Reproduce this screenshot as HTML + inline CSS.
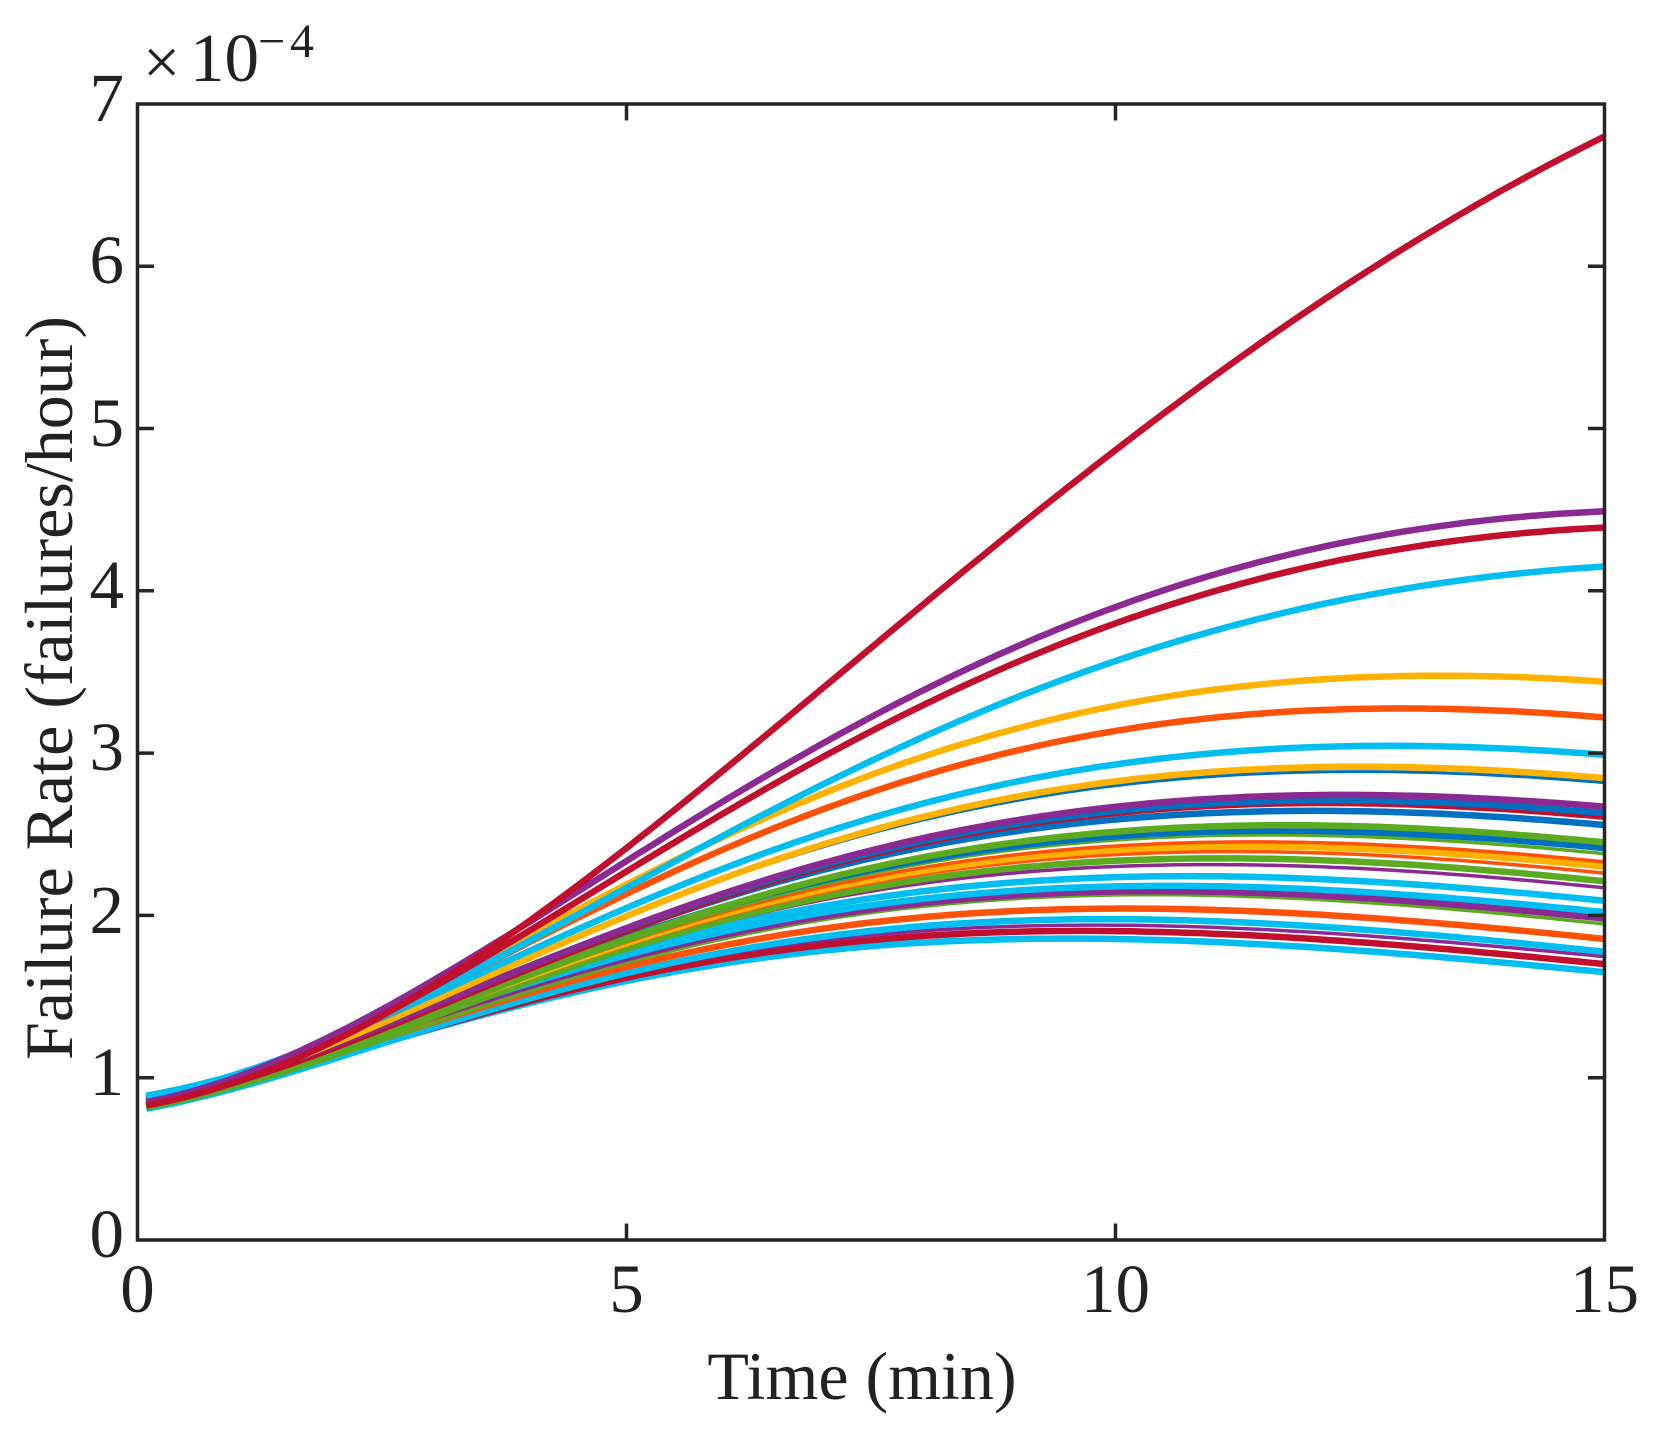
<!DOCTYPE html>
<html>
<head>
<meta charset="utf-8">
<style>
  html,body{margin:0;padding:0;background:#fff;}
  svg{display:block;}
  text{font-family:"Liberation Serif","DejaVu Serif",serif;fill:#222;}
</style>
</head>
<body>
<svg id="s" width="1667" height="1440" viewBox="0 0 1667 1440" xmlns="http://www.w3.org/2000/svg">
  <rect x="0" y="0" width="1667" height="1440" fill="#fff"/>
  <defs>
    <clipPath id="c"><rect x="137.5" y="104" width="1467" height="1136"/></clipPath>
  </defs>
  <g id="curves" clip-path="url(#c)" fill="none" stroke-linejoin="round"></g>

  <!-- axes box -->
  <rect x="137.5" y="104" width="1467" height="1136" fill="none" stroke="#262626" stroke-width="3.5"/>
  <!-- ticks -->
  <g stroke="#262626" stroke-width="3.5">
    <line x1="137.5" y1="1077.7" x2="154" y2="1077.7"/>
    <line x1="137.5" y1="915.4" x2="154" y2="915.4"/>
    <line x1="137.5" y1="753.1" x2="154" y2="753.1"/>
    <line x1="137.5" y1="590.8" x2="154" y2="590.8"/>
    <line x1="137.5" y1="428.5" x2="154" y2="428.5"/>
    <line x1="137.5" y1="266.3" x2="154" y2="266.3"/>
    <line x1="1588" y1="1077.7" x2="1604.5" y2="1077.7"/>
    <line x1="1588" y1="915.4" x2="1604.5" y2="915.4"/>
    <line x1="1588" y1="753.1" x2="1604.5" y2="753.1"/>
    <line x1="1588" y1="590.8" x2="1604.5" y2="590.8"/>
    <line x1="1588" y1="428.5" x2="1604.5" y2="428.5"/>
    <line x1="1588" y1="266.3" x2="1604.5" y2="266.3"/>
    <line x1="626.5" y1="1240" x2="626.5" y2="1223.5"/>
    <line x1="1115.5" y1="1240" x2="1115.5" y2="1223.5"/>
    <line x1="626.5" y1="104" x2="626.5" y2="120.5"/>
    <line x1="1115.5" y1="104" x2="1115.5" y2="120.5"/>
  </g>

  <!-- y tick labels -->
  <g font-size="69" text-anchor="end">
    <text x="124" y="1257">0</text>
    <text x="124" y="1095">1</text>
    <text x="124" y="933">2</text>
    <text x="124" y="770">3</text>
    <text x="124" y="608">4</text>
    <text x="124" y="446">5</text>
    <text x="124" y="283">6</text>
    <text x="124" y="121">7</text>
  </g>
  <!-- x tick labels -->
  <g font-size="69" text-anchor="middle">
    <text x="137.5" y="1312">0</text>
    <text x="626.5" y="1312">5</text>
    <text x="1115.5" y="1312">10</text>
    <text x="1604.5" y="1312">15</text>
  </g>

  <!-- exponent -->
  <text x="143" y="84" font-size="66">×</text>
  <text x="190" y="81" font-size="69">10</text>
  <text x="258" y="57" font-size="48">−</text>
  <text x="290" y="57" font-size="48">4</text>

  <!-- axis labels -->
  <text x="862" y="1399" font-size="68" text-anchor="middle">Time (min)</text>
  <text transform="translate(72,688) rotate(-90)" font-size="68" text-anchor="middle">Failure Rate (failures/hour)</text>
</svg>
<script>
(function(){
  var col={R:"#C0102E",P:"#8A2A92",C:"#00BEF0",Y:"#FFB300",O:"#FF5208",G:"#5BAA1F",B:"#0070C0"};
  var curves=[
    ["C",1.65,4.9,0.83,6.5],
    ["R",1.70,4.97,0.82,6.5],
    ["P",1.746,5.03,0.85,3.5],
    ["C",1.776,5.07,0.80,6.5],
    ["O",1.855,5.17,0.83,6.5],
    ["G",1.947,5.29,0.80,3.5],
    ["P",1.98,5.33,0.85,6.5],
    ["C",2.02,5.38,0.87,6.5],
    ["C",2.09,5.47,0.88,6.5],
    ["P",2.17,5.58,0.85,3.5],
    ["G",2.21,5.63,0.81,6.5],
    ["O",2.26,5.69,0.83,3.5],
    ["Y",2.30,5.75,0.84,6.5],
    ["O",2.33,5.78,0.83,3.5],
    ["G",2.38,5.85,0.81,3.5],
    ["B",2.415,5.9,0.86,6.5],
    ["G",2.45,5.94,0.81,6.5],
    ["B",2.557,6.08,0.87,6.5],
    ["R",2.60,6.13,0.82,4],
    ["B",2.63,6.17,0.86,6.5],
    ["P",2.67,6.23,0.85,6.5],
    ["B",2.818,6.3,0.87,3],
    ["Y",2.846,6.3,0.84,6.5],
    ["C",2.99,6.45,0.87,6.5],
    ["O",3.22,6.5,0.83,6.5],
    ["Y",3.44,6.7,0.84,6.5],
    ["C",4.15,8.2,0.87,6.5],
    ["R",4.39,8.0,0.82,6.5],
    ["P",4.49,7.94,0.84,6.5],
    ["R",6.80,12,0.82,6.5]
  ];
  var X=function(t){return 137.5+t*97.8;};
  var Y=function(v){return 1240-v*162.29;};
  var g=document.getElementById("curves");
  var ns="http://www.w3.org/2000/svg";
  var b15=0.1*15*Math.exp(-6);
  curves.forEach(function(c){
    var E=c[1],tau=c[2],y0=c[3];
    var pts=[];
    for(var i=0;i<=160;i++){
      var t=0.09+(15-0.09)*i/160;
      var gg=Math.pow(t/15,2)*Math.exp((15-t)/tau);
      var b=0.1*t*Math.exp(-t/2.5);
      var v=y0+b+(E-y0-b15)*gg;
      pts.push(X(t).toFixed(1)+","+Y(v).toFixed(1));
    }
    var p=document.createElementNS(ns,"path");
    p.setAttribute("d","M"+pts.join("L"));
    p.setAttribute("stroke",col[c[0]]);
    p.setAttribute("stroke-width",c[4]);
    p.setAttribute("fill","none");
    g.appendChild(p);
  });
})();
</script>
</body>
</html>
